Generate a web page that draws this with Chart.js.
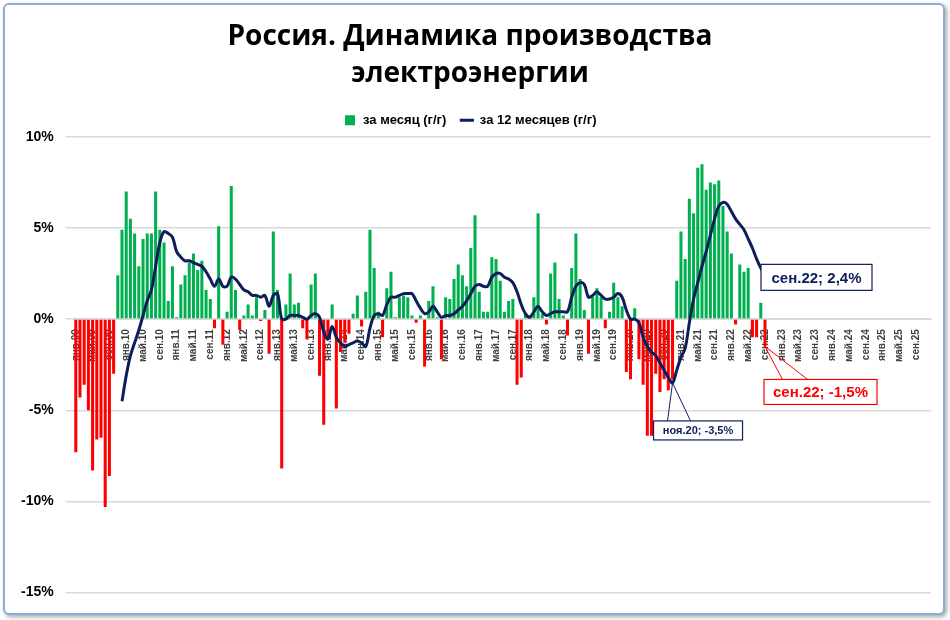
<!DOCTYPE html>
<html><head><meta charset="utf-8">
<script src="https://cdn.jsdelivr.net/npm/chart.js@4.4.0/dist/chart.umd.min.js"></script>
<style>
html,body{margin:0;padding:0;background:#fff;}
#frame{position:absolute;left:3px;top:3px;width:938px;height:608px;border:2px solid #8faadc;border-radius:6px;box-shadow:2px 2px 4px rgba(0,0,0,0.35);background:#fff;}
#wrap{position:absolute;left:0;top:0;width:938px;height:608px;}
canvas{display:block;}
</style></head>
<body>
<div id="frame"><div id="wrap"><canvas id="c" width="938" height="608"></canvas></div></div>
<script>
const monthNames = ['янв','фев','мар','апр','май','июн','июл','авг','сен','окт','ноя','дек'];
const years = [9,10,11,12,13,14,15,16,17,18,19,20,21,22,23,24,25];
const categories = [];
years.forEach(y => monthNames.forEach(m => categories.push(m + '.' + String(y).padStart(2,'0'))));

// monthly y/y, %
const m2009 = [-7.3,-4.3,-3.6,-5.0,-8.3,-6.6,-6.5,-10.3,-8.6,-3.0,2.4,4.9];
const m2010 = [7.0,5.5,4.7,2.9,4.4,4.7,4.7,7.0,4.9,4.2,1.0,2.9];
const m2011 = [0.1,1.9,2.4,3.1,3.6,2.7,3.2,1.6,1.1,-0.5,5.1,-1.4];
const m2012 = [0.4,7.3,1.6,-0.6,0.2,0.8,0.2,1.2,-0.1,0.5,-1.9,4.8];
const m2013 = [1.6,-8.2,0.8,2.5,0.8,0.9,-0.5,-1.1,1.9,2.5,-3.1,-5.8];
const m2014 = [-1.0,0.8,-4.9,-1.8,-1.3,-0.8,0.3,1.3,-0.4,1.5,4.9,2.8];
const m2015 = [0.4,-1.0,1.7,2.6,0.1,1.2,1.3,1.2,0.2,-0.2,0.2,-2.6];
const m2016 = [1.0,1.8,0.1,-2.2,1.2,1.1,2.2,3.0,2.4,1.8,3.9,5.7];
const m2017 = [1.5,0.4,0.4,3.4,3.3,2.1,0.4,1.0,1.1,-3.6,-3.2,0.3];
const m2018 = [0.2,1.2,5.8,0.3,-0.3,2.5,3.1,1.1,0.2,-0.9,2.8,4.7];
const m2019 = [2.2,0.5,-1.9,1.2,1.7,1.2,-0.5,0.4,2.0,1.2,0.7,-2.9];
const m2020 = [-3.3,0.6,-2.2,-3.6,-6.4,-6.4,-3.0,-4.0,-3.3,-3.9,-3.3,2.1];
const m2021 = [4.8,3.3,6.6,5.8,8.3,8.5,7.1,7.5,7.4,7.6,6.2,4.8];
const m2022 = [3.6,-0.3,3.0,2.6,2.8,-1.0,-1.0,0.9,-1.5];

// 12-month y/y, %
const t2009 = [null,null,null,null,null,null,null,null,null,null,null,-4.5];
const t2010 = [-3.1,-2.0,-1.3,-0.6,0.2,1.0,1.6,2.9,4.2,4.8,4.7,4.5];
const t2011 = [3.7,3.4,3.2,3.2,3.1,3.0,2.9,2.6,2.2,1.8,2.2,1.8];
const t2012 = [1.8,2.3,2.2,1.9,1.6,1.5,1.3,1.3,1.2,1.3,0.7,1.3];
const t2013 = [1.4,0.0,0.0,0.2,0.2,0.2,0.1,0.0,0.2,0.3,0.1,-0.7];
const t2014 = [-1.1,-0.4,-1.0,-1.3,-1.5,-1.4,-1.3,-1.2,-1.3,-1.5,-0.5,0.2];
const t2015 = [0.3,0.2,0.8,1.2,1.2,1.3,1.4,1.4,1.4,1.0,0.6,0.3];
const t2016 = [0.4,0.7,0.4,0.1,0.2,0.2,0.3,0.5,0.7,1.0,1.4,1.8];
const t2017 = [1.9,1.8,1.8,2.3,2.5,2.5,2.3,2.2,2.0,1.5,0.8,0.3];
const t2018 = [0.1,0.4,0.7,0.4,0.2,0.3,0.4,0.4,0.4,0.4,1.2,1.8];
const t2019 = [2.0,1.9,1.2,1.3,1.5,1.3,1.1,1.1,1.2,1.4,1.2,0.5];
const t2020 = [0.0,0.0,-0.2,-1.0,-1.5,-1.8,-2.0,-2.4,-2.8,-3.2,-3.5,-2.8];
const t2021 = [-2.1,-1.6,-0.2,1.1,2.0,2.9,3.7,4.6,5.5,6.2,6.4,6.3];
const t2022 = [5.9,5.5,5.2,4.9,4.4,3.9,3.3,2.8,2.4];

const yTicks = [-15,-10,-5,0,5,10];

const pad = arr => { const a = arr.slice(); while (a.length < categories.length) a.push(null); return a; };
const monthly = pad([].concat(m2009,m2010,m2011,m2012,m2013,m2014,m2015,m2016,m2017,m2018,m2019,m2020,m2021,m2022));
const trend = pad([].concat(t2009,t2010,t2011,t2012,t2013,t2014,t2015,t2016,t2017,t2018,t2019,t2020,t2021,t2022));

const NAVY = '#0c1f5b';
const annot = {
  id:'annot',
  afterDatasetsDraw(chart){
    const ctx = chart.ctx, xs = chart.scales.x, ys = chart.scales.y;
    function box(x,y,w,h,color,text,size){
      ctx.save();
      ctx.fillStyle='#fff'; ctx.fillRect(x,y,w,h);
      ctx.strokeStyle=color; ctx.lineWidth=1.2; ctx.strokeRect(x,y,w,h);
      ctx.fillStyle=color; ctx.font='bold '+size+'px "Liberation Sans", Arial, sans-serif';
      ctx.textAlign='center'; ctx.textBaseline='middle';
      ctx.fillText(text,x+w/2,y+h/2+1);
      ctx.restore();
    }
    function lines(color,pts){
      ctx.save(); ctx.strokeStyle=color; ctx.lineWidth=1;
      pts.forEach(p=>{ctx.beginPath();ctx.moveTo(p[0],p[1]);ctx.lineTo(p[2],p[3]);ctx.stroke();});
      ctx.restore();
    }
    const i1 = 164;
    let px = xs.getPixelForValue(i1), py = ys.getPixelForValue(trend[i1]);
    box(px-4,py-11,111,26,NAVY,categories[i1]+'; '+String(trend[i1]).replace('.',',')+'%',15);
    let bx = xs.getPixelForValue(i1), by = ys.getPixelForValue(monthly[i1]);
    lines('#ff0000',[[bx,by,bx+18,by+34],[bx,by,bx+44,by+34]]);
    box(bx-1,by+33,113,25,'#ff0000',categories[i1]+'; '+String(monthly[i1]).replace('.',',')+'%',15);
    const i2 = 142;
    let qx = xs.getPixelForValue(i2), qy = ys.getPixelForValue(trend[i2]);
    lines(NAVY,[[qx,qy,qx-5,qy+38],[qx,qy,qx+18,qy+38]]);
    box(qx-19,qy+38,89,19,NAVY,categories[i2]+'; '+String(trend[i2]).replace('.',',')+'%',11);
  }
};

new Chart(document.getElementById('c'), {
  data:{
    labels:categories,
    datasets:[
      {type:'line',label:'за 12 месяцев (г/г)',data:trend,borderColor:NAVY,backgroundColor:NAVY,borderWidth:3,pointRadius:0,tension:0.35,spanGaps:false,order:0},
      {type:'bar',label:'за месяц (г/г)',data:monthly,backgroundColor:ctx=>{const v=ctx.raw;return v<0?'#ff0000':'#00b050';},categoryPercentage:0.85,barPercentage:0.85,order:1}
    ]
  },
  options:{
    responsive:false, animation:false,
    devicePixelRatio:1,
    layout:{padding:{left:4,right:12,top:8,bottom:8}},
    plugins:{
      title:{display:true,text:['Россия. Динамика производства','электроэнергии'],color:'#000',font:{size:28,weight:'bold',family:'"Open Sans", "Liberation Sans", sans-serif',lineHeight:1.3},padding:{top:6,bottom:8}},
      legend:{display:true,labels:{usePointStyle:true,color:'#000',boxHeight:10,font:{size:13,weight:'bold',family:'"Liberation Sans", Arial, sans-serif'},padding:14,
        generateLabels(chart){return [
          {text:'за месяц (г/г)',fillStyle:'#00b050',strokeStyle:'#00b050',pointStyle:'rect',lineWidth:0,datasetIndex:1},
          {text:'за 12 месяцев (г/г)',fillStyle:NAVY,strokeStyle:NAVY,pointStyle:'line',lineWidth:3,datasetIndex:0}
        ];}}},
      tooltip:{enabled:false}
    },
    scales:{
      x:{position:{y:0},grid:{display:false},border:{color:'#d9d9d9'},
        ticks:{autoSkip:false,maxRotation:90,minRotation:90,color:'#404040',padding:2,font:{size:10,weight:'bold',family:'"Liberation Sans", Arial, sans-serif'},
          callback:(v,i)=> (i%4===0 ? categories[i] : '')}},
      y:{min:-15,max:10,afterBuildTicks:s=>{s.ticks=yTicks.map(v=>({value:v}));},
        grid:{color:'#d9d9d9',lineWidth:1.5},border:{display:false},
        ticks:{color:'#000',padding:12,font:{size:14,weight:'bold',family:'"Liberation Sans", Arial, sans-serif'},callback:v=>v+'%'}}
    }
  },
  plugins:[annot]
});
</script>
</body></html>
